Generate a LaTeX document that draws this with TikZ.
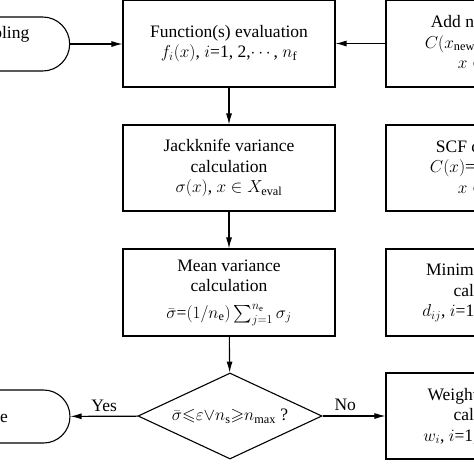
\documentclass[tikz,border=0pt]{standalone}
\usepackage{amsmath,amssymb}
\usepackage{fontspec}
\setmainfont{Liberation Serif}
\usetikzlibrary{arrows.meta,shapes.geometric,shapes.misc}

\tikzset{
  process/.style={draw, line width=1.1pt, minimum width=212pt, minimum height=86pt, align=center, inner sep=2pt},
  terminal/.style={draw, line width=1.1pt, rounded rectangle, rounded rectangle left arc=none, minimum height=54pt},
  decision/.style={draw, line width=1.1pt, diamond, aspect=2.14, minimum width=184pt, minimum height=86pt, inner sep=0pt},
  flow/.style={line width=1.1pt, -{Latex[length=11pt,width=6pt]}},
}

\begin{document}
\begin{tikzpicture}[x=1pt, y=-1pt, every node/.style={font=\fontsize{17.5}{20.5}\selectfont}]
    \useasboundingbox (0,0) rectangle (474,474);
    \clip (0,0) rectangle (474,474);

    % draw start and end
    \node[terminal, minimum width=160pt] (init) at (-7,44) {};
    \node[anchor=base east, inner sep=0pt] (inittxt) at (29.5,38) {Initial sampling};
    \node[terminal, minimum width=168pt, minimum height=53pt] (done) at (-11,416.5) {Done};

    % draw main column
    \node[process, minimum height=87pt] (eval) at (229,43.5) {Function(s) evaluation\\$f_i(x)$, $i$=1, 2,$\cdots$, $n_{\rm f}$};
    \node[process] (jack) at (229,168) {Jackknife variance\\calculation\\$\sigma(x)$, $x\in X_{\rm eval}$};
    \node[process, minimum height=87pt] (mean) at (229,292.5) {Mean variance\\calculation\\[6pt]$\bar{\sigma}$=$(1/n_{\rm e})\sum_{j=1}^{n_{\rm e}}\sigma_j$};
    \node[decision] (check) at (230,416) {$\bar{\sigma}{\leqslant}\varepsilon{\vee}n_{\rm s}{\geqslant}n_{\max}$ ?};

    % draw side column
    \node[process, minimum height=87pt] (add) at (492,43.5) {Add new point(s)\\$C(x_{\rm new})$=max\,$C(x)$\\$x\in X_{\rm cand}$};
    \node[process] (scf) at (492,168) {SCF calculation\\$C(x)$=$\sigma(x)\cdot w(x)$\\$x\in X_{\rm cand}$};
    \node[process, minimum height=87pt] (mind) at (492,292.5) {Minimum distance\\calculation\\$d_{ij}$, $i$=1, 2,$\cdots$, $n_{\rm cand}$};
    \node[process] (weight) at (492,416) {Weight coefficient\\calculation\\$w_i$, $i$=1, 2,$\cdots$, $n_{\rm cand}$};

    % draw arrows
    \draw[flow] (init.east) -- (eval.west |- init.east);
    \draw[flow] (add.west) -- (eval.east);
    \draw[flow] (eval) -- (jack);
    \draw[flow] (jack) -- (mean);
    \draw[flow] (mean) -- (check);
    \draw[flow] (check) -- node[above=1pt] (yes) {Yes} (done);
    \draw[flow] (check) -- node[above=1pt, pos=0.36] (no) {No} (weight);
\end{tikzpicture}
\end{document}
